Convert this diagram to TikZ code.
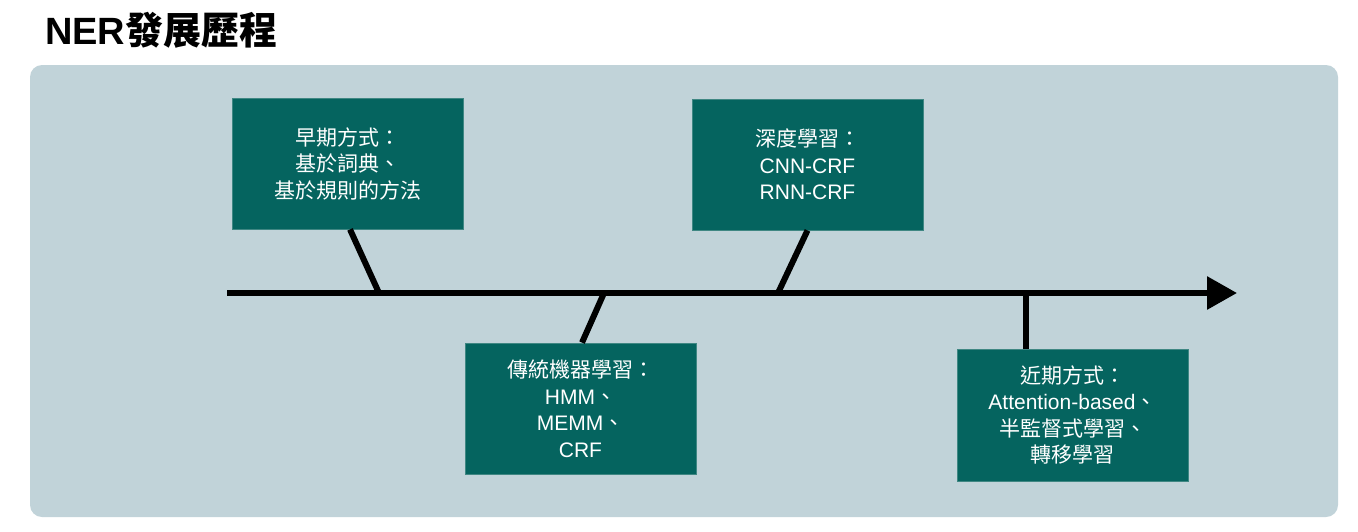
\documentclass[tikz,border=0pt]{standalone}
\usepackage{fontspec}
\setmainfont{Liberation Sans}
\newfontfamily\cjk{Noto Sans CJK TC}
\usetikzlibrary{arrows.meta}
\definecolor{panel}{HTML}{C1D3D9}
\definecolor{boxc}{HTML}{05645F}
\definecolor{boxedge}{HTML}{3F8783}
\tikzset{
  stagebox/.style={fill=boxc, draw=boxedge, line width=0.8pt,
    minimum width=231pt, minimum height=131pt, text=white, align=center,
    font=\fontsize{21}{26.5}\selectfont, inner sep=0pt},
  axisline/.style={line width=6pt, -{Triangle[length=30pt,width=32pt]}},
  stem/.style={line width=6pt}
}
\begin{document}
\begin{tikzpicture}[x=1pt,y=-1pt]
\useasboundingbox (0,0) rectangle (1358,531);
\fill[panel, rounded corners=12pt] (30,65) rectangle (1338,517);
\node[anchor=base west, inner sep=0pt, font=\fontsize{38}{44}\selectfont\bfseries] (title) at (45,44) {NER{\cjk 發展歷程}};

\coordinate (a0) at (227,293);
\coordinate (a1) at (1237,293);
\coordinate (c1) at (379,293);
\coordinate (c2) at (778,293);
\coordinate (c3) at (604,293);
\coordinate (c4) at (1025.5,293);

\node[stagebox] (b1) at (348,163.5) {{\cjk 早期方式：}\\{\cjk 基於詞典、}\\{\cjk 基於規則的方法}};
\node[stagebox] (b2) at (807.5,164.5) {{\cjk 深度學習：}\\CNN-CRF\\RNN-CRF};
\node[stagebox] (b3) at (580.5,408.5) {{\cjk 傳統機器學習：}\\HMM{\cjk 、}\\MEMM{\cjk 、}\\CRF};
\node[stagebox, minimum height=132pt] (b4) at (1072.5,415) {{\cjk 近期方式：}\\Attention-based{\cjk 、}\\{\cjk 半監督式學習、}\\{\cjk 轉移學習}};

\draw[axisline] (a0) -- (a1);
\draw[stem] ([xshift=2pt]b1.south) -- (c1);
\draw[stem] (b2.south) -- (c2);
\draw[stem] ([xshift=1.5pt]b3.north) -- (c3);
\draw[stem] (b4.north -| c4) -- (c4);
\end{tikzpicture}
\end{document}
